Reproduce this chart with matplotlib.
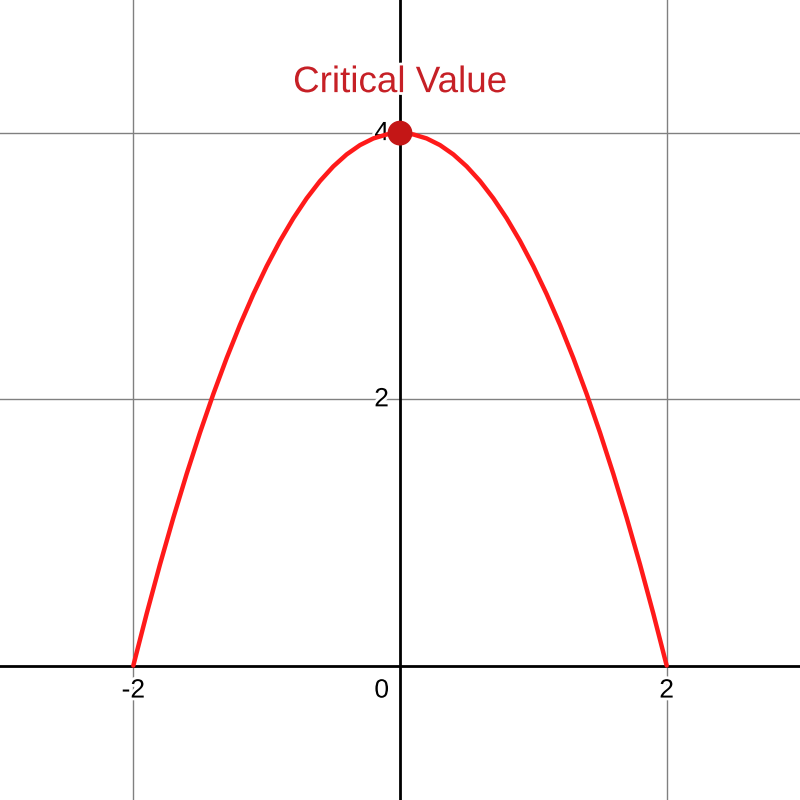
import matplotlib
matplotlib.use("Agg")
import matplotlib.pyplot as plt
import matplotlib.patheffects as pe

# Curve samples
curve_x = [-2.0, -1.9, -1.8, -1.7, -1.6, -1.5, -1.4, -1.3, -1.2, -1.1, -1.0,
           -0.9, -0.8, -0.7, -0.6, -0.5, -0.4, -0.3, -0.2, -0.1, 0.0,
           0.1, 0.2, 0.3, 0.4, 0.5, 0.6, 0.7, 0.8, 0.9, 1.0,
           1.1, 1.2, 1.3, 1.4, 1.5, 1.6, 1.7, 1.8, 1.9, 2.0]
curve_y = [0.0, 0.39, 0.76, 1.11, 1.44, 1.75, 2.04, 2.31, 2.56, 2.79, 3.0,
           3.19, 3.36, 3.51, 3.64, 3.75, 3.84, 3.91, 3.96, 3.99, 4.0,
           3.99, 3.96, 3.91, 3.84, 3.75, 3.64, 3.51, 3.36, 3.19, 3.0,
           2.79, 2.56, 2.31, 2.04, 1.75, 1.44, 1.11, 0.76, 0.39, 0.0]
crit_x = [0.0]
crit_y = [4.0]
crit_label = "Critical Value"
x_ticks = [-2, 2]
y_ticks = [2, 4]

fig = plt.figure(figsize=(8, 8), dpi=100)
ax = fig.add_axes([0, 0, 1, 1])
ax.set_xlim(-3, 3)
ax.set_ylim(-1.01, 5.0)
ax.axis("off")

font = "Liberation Sans"
grid_c = "#808080"
for gx in [-2, 2]:
    ax.axvline(gx, color=grid_c, lw=1.0, zorder=1)
for gy in [2, 4]:
    ax.axhline(gy, color=grid_c, lw=1.0, zorder=1)
ax.axhline(0, color="black", lw=2.0, zorder=2)
ax.axvline(0, color="black", lw=2.0, zorder=2)

halo = [pe.withStroke(linewidth=4, foreground="white")]
for t in x_ticks:
    ax.annotate(str(t), (t, 0), xytext=(0, -13), textcoords="offset pixels",
                ha="center", va="top", fontsize=19, family=font, color="black",
                path_effects=halo, zorder=3)
ax.annotate("0", (0, 0), xytext=(-11, -13), textcoords="offset pixels",
            ha="right", va="top", fontsize=19, family=font, color="black",
            path_effects=halo, zorder=3)
for t in y_ticks:
    ax.annotate(str(t), (0, t), xytext=(-11, 0), textcoords="offset pixels",
                ha="right", va="center", fontsize=19, family=font, color="black",
                path_effects=halo, zorder=3)

ax.plot(curve_x, curve_y, color="#ff1a1a", lw=3.2, zorder=4, solid_capstyle="round")
ax.scatter(crit_x, crit_y, s=320, color="#c41616", alpha=1.0, zorder=5, edgecolors="none")
ax.annotate(crit_label, (crit_x[0], crit_y[0]), xytext=(0, 33), textcoords="offset pixels",
            ha="center", va="bottom", fontsize=26.5, family=font, color="#c62026",
            path_effects=halo, zorder=6)

fig.savefig("out.png", dpi=100)
